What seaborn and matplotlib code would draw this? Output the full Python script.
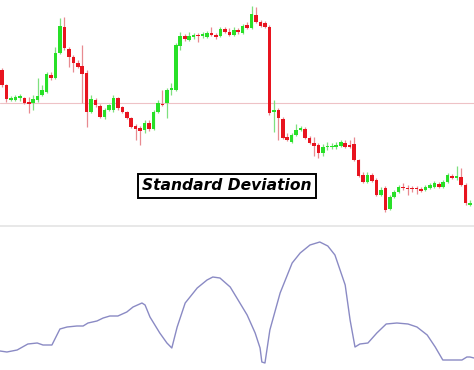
import numpy as np
import pandas as pd
import matplotlib
matplotlib.use("Agg")
import matplotlib.pyplot as plt
from matplotlib.lines import Line2D
import seaborn as sns

# ---- data (price units, arbitrary scale) ----
opens = [180,165,150,150,152,152,148,147,150,155,158,175,172,197,223,201,193,187,184,177,
         138,150,144,133,140,140,152,143,138,132,124,122,120,127,121,138,146,147,160,160,
         204,214,210,213,215,214,213,217,215,214,221,218,215,220,217,225,222,235,228,227,
         223,138,140,131,113,108,115,120,121,112,107,105,97,103,103,103,104,107,105,106,
         90,75,68,75,70,55,62,41,53,58,63,62,62,62,61,60,62,63,66,63,
         68,74,72,73,65,45]
closes = [165,151,152,153,154,147,146,151,154,160,176,172,197,224,202,193,187,183,176,138,
          151,145,133,140,145,152,142,138,132,123,121,119,127,121,138,147,145,160,162,205,
          214,211,214,215,214,216,217,215,213,221,218,215,220,218,224,222,236,228,224,223,
          137,140,132,112,110,115,120,122,112,107,104,97,103,104,104,105,108,103,103,90,
          74,68,75,69,55,60,40,53,58,63,62,61,61,61,59,63,65,67,63,68,
          75,72,74,65,47,47]
highs = [182,166,154,155,156,153,153,155,172,165,178,178,203,232,233,203,195,190,205,180,
         155,152,146,142,146,155,153,144,139,133,126,124,130,130,140,150,160,162,167,207,
         218,216,218,217,217,218,219,223,217,223,223,222,223,222,226,228,244,243,230,229,
         225,150,142,133,117,117,126,124,123,114,113,107,106,108,107,108,110,110,110,113,
         91,78,78,77,72,63,64,55,60,65,67,65,64,64,63,65,67,69,68,70,
         77,76,84,82,67,50]
lows = [163,148,149,149,149,146,137,140,148,154,157,170,171,196,200,183,178,182,147,123,
        137,143,132,131,139,138,140,137,131,122,110,105,117,119,120,137,144,132,155,159,
        200,209,209,211,208,212,212,214,211,213,217,214,214,216,216,221,221,227,223,222,
        135,118,110,111,109,107,114,119,111,106,94,92,94,100,101,101,103,102,102,89,
        73,67,67,68,54,54,38,40,52,57,60,55,58,56,58,59,61,62,62,62,
        67,71,70,64,45,44]
ref_level = 147

sd_t = [-0.45,1.1,3.4,5.8,7.9,9.2,11.2,13.0,14.6,16.8,18.2,19.3,21.3,22.7,24.2,26.0,28.0,29.4,
        31.4,32.1,33.2,35.4,37.0,38.1,39.3,41.1,43.8,46.0,47.3,48.9,51.2,52.7,55.0,56.8,57.9,
        58.3,59.0,60.1,62.4,65.1,66.9,69.1,71.3,73.1,74.7,77.0,78.1,79.2,80.3,82.1,84.1,86.2,
        88.6,91.1,93.1,95.4,97.2,98.9,101.2,103.2,104.3,105.0,105.9]
sd_val = [19,18,20,26,27,25,25,41,43,44,44,47,49,52,54,54,58,63,67,65,53,37,27,22,43,67,82,90,
          93,92,83,72,55,37,22,8,7,40,77,107,117,125,128,124,115,85,50,23,26,27,37,46,47,46,43,
          35,23,10,10,10,13,13,12]

df = pd.DataFrame({"o": opens, "c": closes, "h": highs, "l": lows})
df["t"] = np.arange(len(df))
sd = pd.DataFrame({"t": sd_t, "sd": sd_val})

sns.set_theme(style="white")
W, H = 474, 370
fig = plt.figure(figsize=(W / 100, H / 100), dpi=100)
fig.patch.set_facecolor("white")

sep_px = 226
spacing = 4.457
x0 = 2
xlim = (-x0 / spacing, (W - x0) / spacing)

ax = fig.add_axes([0, (H - sep_px) / H, 1, sep_px / H])
ax.set_xlim(*xlim)
ax.set_ylim(250 - sep_px, 250)
ax.axis("off")

RED = "#e8141f"
GREEN = "#28e028"
RED_W = "#e88a90"
GREEN_W = "#7ee07e"

up = df["c"] >= df["o"]
colors = np.where(up, GREEN, RED)
wcolors = np.where(up, GREEN_W, RED_W)

ax.axhline(ref_level, color="#eec2c6", lw=0.8, zorder=1)
ax.vlines(df["t"], df["l"], df["h"], colors=wcolors, lw=0.9, zorder=2)
bottoms = np.minimum(df["o"], df["c"])
heights = np.maximum(np.abs(df["c"] - df["o"]), 1.2)
ax.bar(df["t"], heights, bottom=bottoms, width=0.8, color=colors, edgecolor="none", zorder=3)

fig.text(227 / W, 1 - 186 / H, "Standard Deviation", ha="center", va="center",
         fontsize=11.2, fontweight="bold", fontstyle="italic", family="DejaVu Sans",
         color="black",
         bbox=dict(boxstyle="square,pad=0.3", facecolor="white", edgecolor="black", lw=1.4))

fig.add_artist(Line2D([0, 1], [1 - sep_px / H, 1 - sep_px / H], transform=fig.transFigure,
                      color="#e4e4e4", lw=1.2))

ax2 = fig.add_axes([0, 0, 1, (H - sep_px) / H])
ax2.set_xlim(*xlim)
ax2.set_ylim(0, H - sep_px)
ax2.axis("off")
sns.lineplot(data=sd, x="t", y="sd", ax=ax2, color="#8a8ac4", lw=1.0, sort=False)

fig.savefig("out.png", dpi=100, facecolor="white")
